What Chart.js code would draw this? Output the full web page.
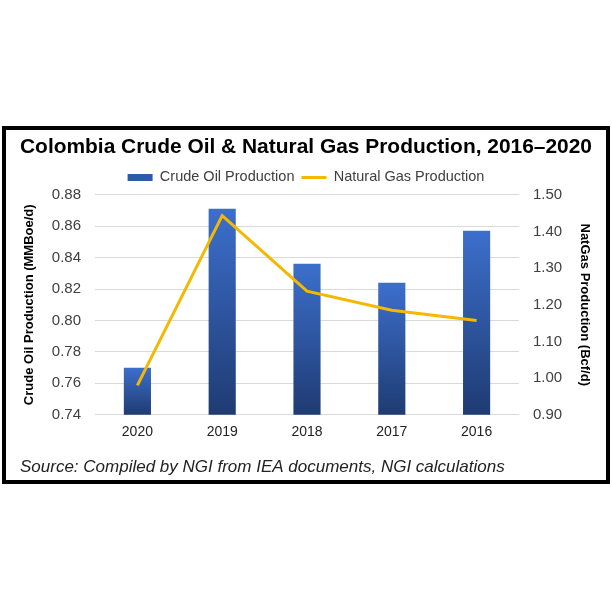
<!DOCTYPE html>
<html lang="en">
<head>
    <meta charset="UTF-8">
    <title>Colombia Crude Oil & Natural Gas Production</title>
    <style>
        body { margin: 0; background: #fff; }
        #frame {
            position: absolute; left: 2px; top: 126px;
            width: 600px; height: 350px;
            border: 4px solid #000;
        }
    </style>
</head>
<body>
    <div id="frame"><canvas id="myChart" width="600" height="350"></canvas></div>
    <script src="https://cdn.jsdelivr.net/npm/chart.js"></script>
    <script>
        // data
        const years = ['2020', '2019', '2018', '2017', '2016'];
        const crudeOil = [0.770, 0.871, 0.836, 0.824, 0.857];   // MMBoe/d
        const natGas = [0.98, 1.443, 1.237, 1.185, 1.157];      // Bcf/d

        const font = "'Liberation Sans', Arial, sans-serif";

        // each bar gets its own top-to-bottom gradient
        function barGradient(context) {
            const chart = context.chart;
            const area = chart.chartArea;
            if (!area) return '#2f5aa8';
            const top = chart.scales.y.getPixelForValue(context.raw);
            const g = chart.ctx.createLinearGradient(0, top, 0, area.bottom);
            g.addColorStop(0, '#3c6fcc');
            g.addColorStop(1, '#1f3b72');
            return g;
        }

        const ctx = document.getElementById('myChart').getContext('2d');
        new Chart(ctx, {
            data: {
                labels: years,
                datasets: [
                    {
                        type: 'bar',
                        label: 'Crude Oil Production',
                        data: crudeOil,
                        yAxisID: 'y',
                        backgroundColor: barGradient,
                        barPercentage: 0.32,
                        categoryPercentage: 1,
                        order: 1
                    },
                    {
                        type: 'line',
                        label: 'Natural Gas Production',
                        data: natGas,
                        yAxisID: 'y1',
                        borderColor: '#f5b800',
                        backgroundColor: '#f5b800',
                        borderWidth: 3,
                        pointRadius: 0,
                        tension: 0,
                        order: 0
                    }
                ]
            },
            options: {
                responsive: false,
                animation: false,
                layout: { padding: { left: 14, right: 14, top: 0, bottom: 0 } },
                plugins: {
                    title: {
                        display: true,
                        text: 'Colombia Crude Oil & Natural Gas Production, 2016\u20132020',
                        color: '#000',
                        font: { family: font, size: 21, weight: 'bold' },
                        padding: { top: 5, bottom: 3 }
                    },
                    subtitle: {
                        display: true,
                        position: 'bottom',
                        align: 'start',
                        text: 'Source: Compiled by NGI from IEA documents, NGI calculations',
                        color: '#222',
                        font: { family: font, size: 17, style: 'italic' },
                        padding: { top: 15, bottom: 3 }
                    },
                    legend: {
                        labels: {
                            color: '#404040',
                            font: { family: font, size: 14.5 },
                            usePointStyle: true,
                            pointStyleWidth: 25,
                            boxHeight: 7,
                            padding: 7,
                            generateLabels: function(chart) {
                                return chart.data.datasets.map((ds, i) => ({
                                    text: ds.label,
                                    fillStyle: ds.type === 'bar' ? '#2f5aa8' : '#f5b800',
                                    strokeStyle: ds.type === 'bar' ? '#2f5aa8' : '#f5b800',
                                    lineWidth: ds.type === 'bar' ? 0 : 3,
                                    pointStyle: ds.type === 'bar' ? 'rect' : 'line',
                                    fontColor: '#404040',
                                    datasetIndex: i,
                                    hidden: false
                                }));
                            }
                        }
                    },
                    tooltip: { enabled: false }
                },
                scales: {
                    x: {
                        grid: { display: false },
                        border: { display: false },
                        ticks: { color: '#222', font: { family: font, size: 14 }, padding: 1 }
                    },
                    y: {
                        position: 'left',
                        min: 0.74,
                        max: 0.88,
                        ticks: {
                            stepSize: 0.02,
                            color: '#404040',
                            font: { family: font, size: 15 },
                            padding: 14,
                            callback: v => v.toFixed(2)
                        },
                        grid: { color: '#d9d9d9', drawTicks: false },
                        border: { display: false },
                        title: {
                            display: true,
                            text: 'Crude Oil Production (MMBoe/d)',
                            color: '#000',
                            font: { family: font, size: 13, weight: 'bold' },
                            padding: { top: 2, bottom: 0 }
                        },
                        afterFit: s => { s.width = 75; }
                    },
                    y1: {
                        position: 'right',
                        min: 0.9,
                        max: 1.5,
                        ticks: {
                            stepSize: 0.1,
                            color: '#404040',
                            font: { family: font, size: 15 },
                            padding: 14,
                            callback: v => v.toFixed(2)
                        },
                        grid: { display: false, drawTicks: false },
                        border: { display: false },
                        title: {
                            display: true,
                            text: 'NatGas Production (Bcf/d)',
                            color: '#000',
                            font: { family: font, size: 13, weight: 'bold' },
                            padding: { top: 0, bottom: 0 }
                        },
                        afterFit: s => { s.width = 73; }
                    }
                }
            }
        });
    </script>
</body>
</html>
